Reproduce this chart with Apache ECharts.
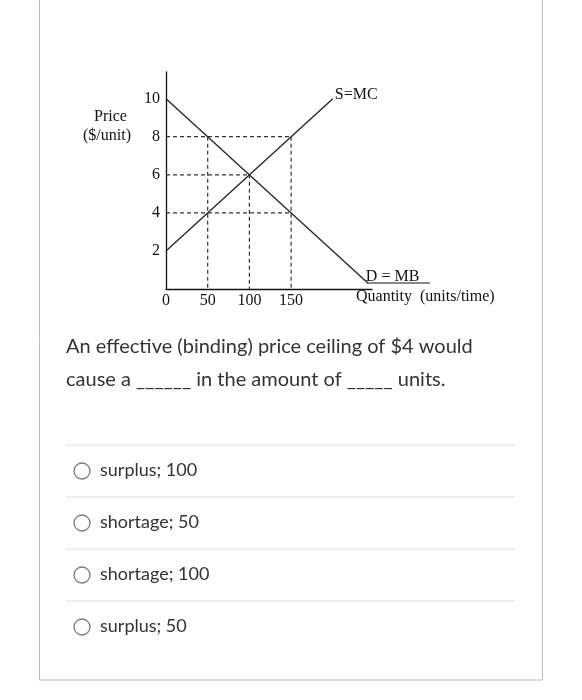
<!DOCTYPE html><html><head><meta charset="utf-8"><script src="https://cdn.jsdelivr.net/npm/echarts@6/dist/echarts.min.js"></script>
<style>body{margin:0;background:#fff}#c{width:582px;height:700px}</style></head><body><div id="c"></div><script>
const supplyData=[[0,2],[200,10]];
const demandData=[[0,10],[242,0.32]];
const dashH=[[[0,8],[150,8]],[[0,6],[100,6]],[[0,4],[150,4]]];
const dashV=[[[50,8],[50,0]],[[100,6],[100,0]],[[150,8],[150,0]]];
const xTicks=[0,50,100,150];
const yTicks=[2,4,6,8,10];
const options=['surplus; 100','shortage; 50','shortage; 100','surplus; 50'];
const question1='An effective (binding) price ceiling of $4 would';
const question2='cause a ______ in the amount of _____ units.';
const serif='Liberation Serif';
const series=[
 {type:'line',data:supplyData,symbol:'none',lineStyle:{color:'#222',width:1.3},
  endLabel:{show:true,formatter:'S=MC',fontFamily:serif,fontSize:16,color:'#111',offset:[-6,-4]}},
 {type:'line',data:demandData,symbol:'none',lineStyle:{color:'#222',width:1.3},
  endLabel:{show:true,formatter:'D = MB',fontFamily:serif,fontSize:16,color:'#111',offset:[-10,-6]}}
];
dashH.concat(dashV).forEach(d=>series.push({type:'line',data:d,symbol:'none',silent:true,lineStyle:{color:'#333',width:1.2,type:[4,3]}}));
const g=[
 {type:'rect',shape:{x:39.5,y:-1,width:503,height:681},style:{fill:'none',stroke:'#bbb',lineWidth:1}},
 {type:'text',x:94,y:109,style:{text:'Price',font:'16px "Liberation Serif"',fill:'#111'}},
 {type:'text',x:83,y:128,style:{text:'($/unit)',font:'16px "Liberation Serif"',fill:'#111'}},
 {type:'text',x:356,y:289,style:{text:'Quantity  (units/time)',font:'16px "Liberation Serif"',fill:'#111'}},
 {type:'line',shape:{x1:367,y1:283,x2:430,y2:283},style:{stroke:'#111',lineWidth:1}},
 {type:'text',x:66,y:337,style:{text:question1,font:'20px Lato',fill:'#333'}},
 {type:'text',x:66,y:370,style:{text:question2,font:'20px Lato',fill:'#333'}}
];
const lineYs=[445,497,549,601];
lineYs.forEach(y=>g.push({type:'line',shape:{x1:66,y1:y,x2:515,y2:y},style:{stroke:'#ddd',lineWidth:1}}));
options.forEach((o,i)=>{const cy=lineYs[i]+26;
 g.push({type:'circle',shape:{cx:82,cy:cy,r:8},style:{fill:'#fff',stroke:'#777',lineWidth:1.3}});
 g.push({type:'text',x:100,y:cy-10,style:{text:o,font:'18px Lato',fill:'#333'}});});
const chart=echarts.init(document.getElementById('c'));
chart.setOption({animation:false,grid:{left:166,right:210,top:72,bottom:411},
 xAxis:{type:'value',min:0,max:247,interval:50,splitLine:{show:false},axisTick:{show:false},
  axisLine:{lineStyle:{color:'#111',width:1.3}},
  axisLabel:{formatter:v=>xTicks.includes(v)?String(v):'',fontFamily:serif,fontSize:16,color:'#111',margin:4}},
 yAxis:{type:'value',min:0,max:11.4,interval:2,splitLine:{show:false},axisTick:{show:false},
  axisLine:{lineStyle:{color:'#111',width:1.3}},
  axisLabel:{formatter:v=>yTicks.includes(v)?String(v):'',showMaxLabel:false,fontFamily:serif,fontSize:16,color:'#111',margin:6}},
 series:series,graphic:g});
</script></body></html>
